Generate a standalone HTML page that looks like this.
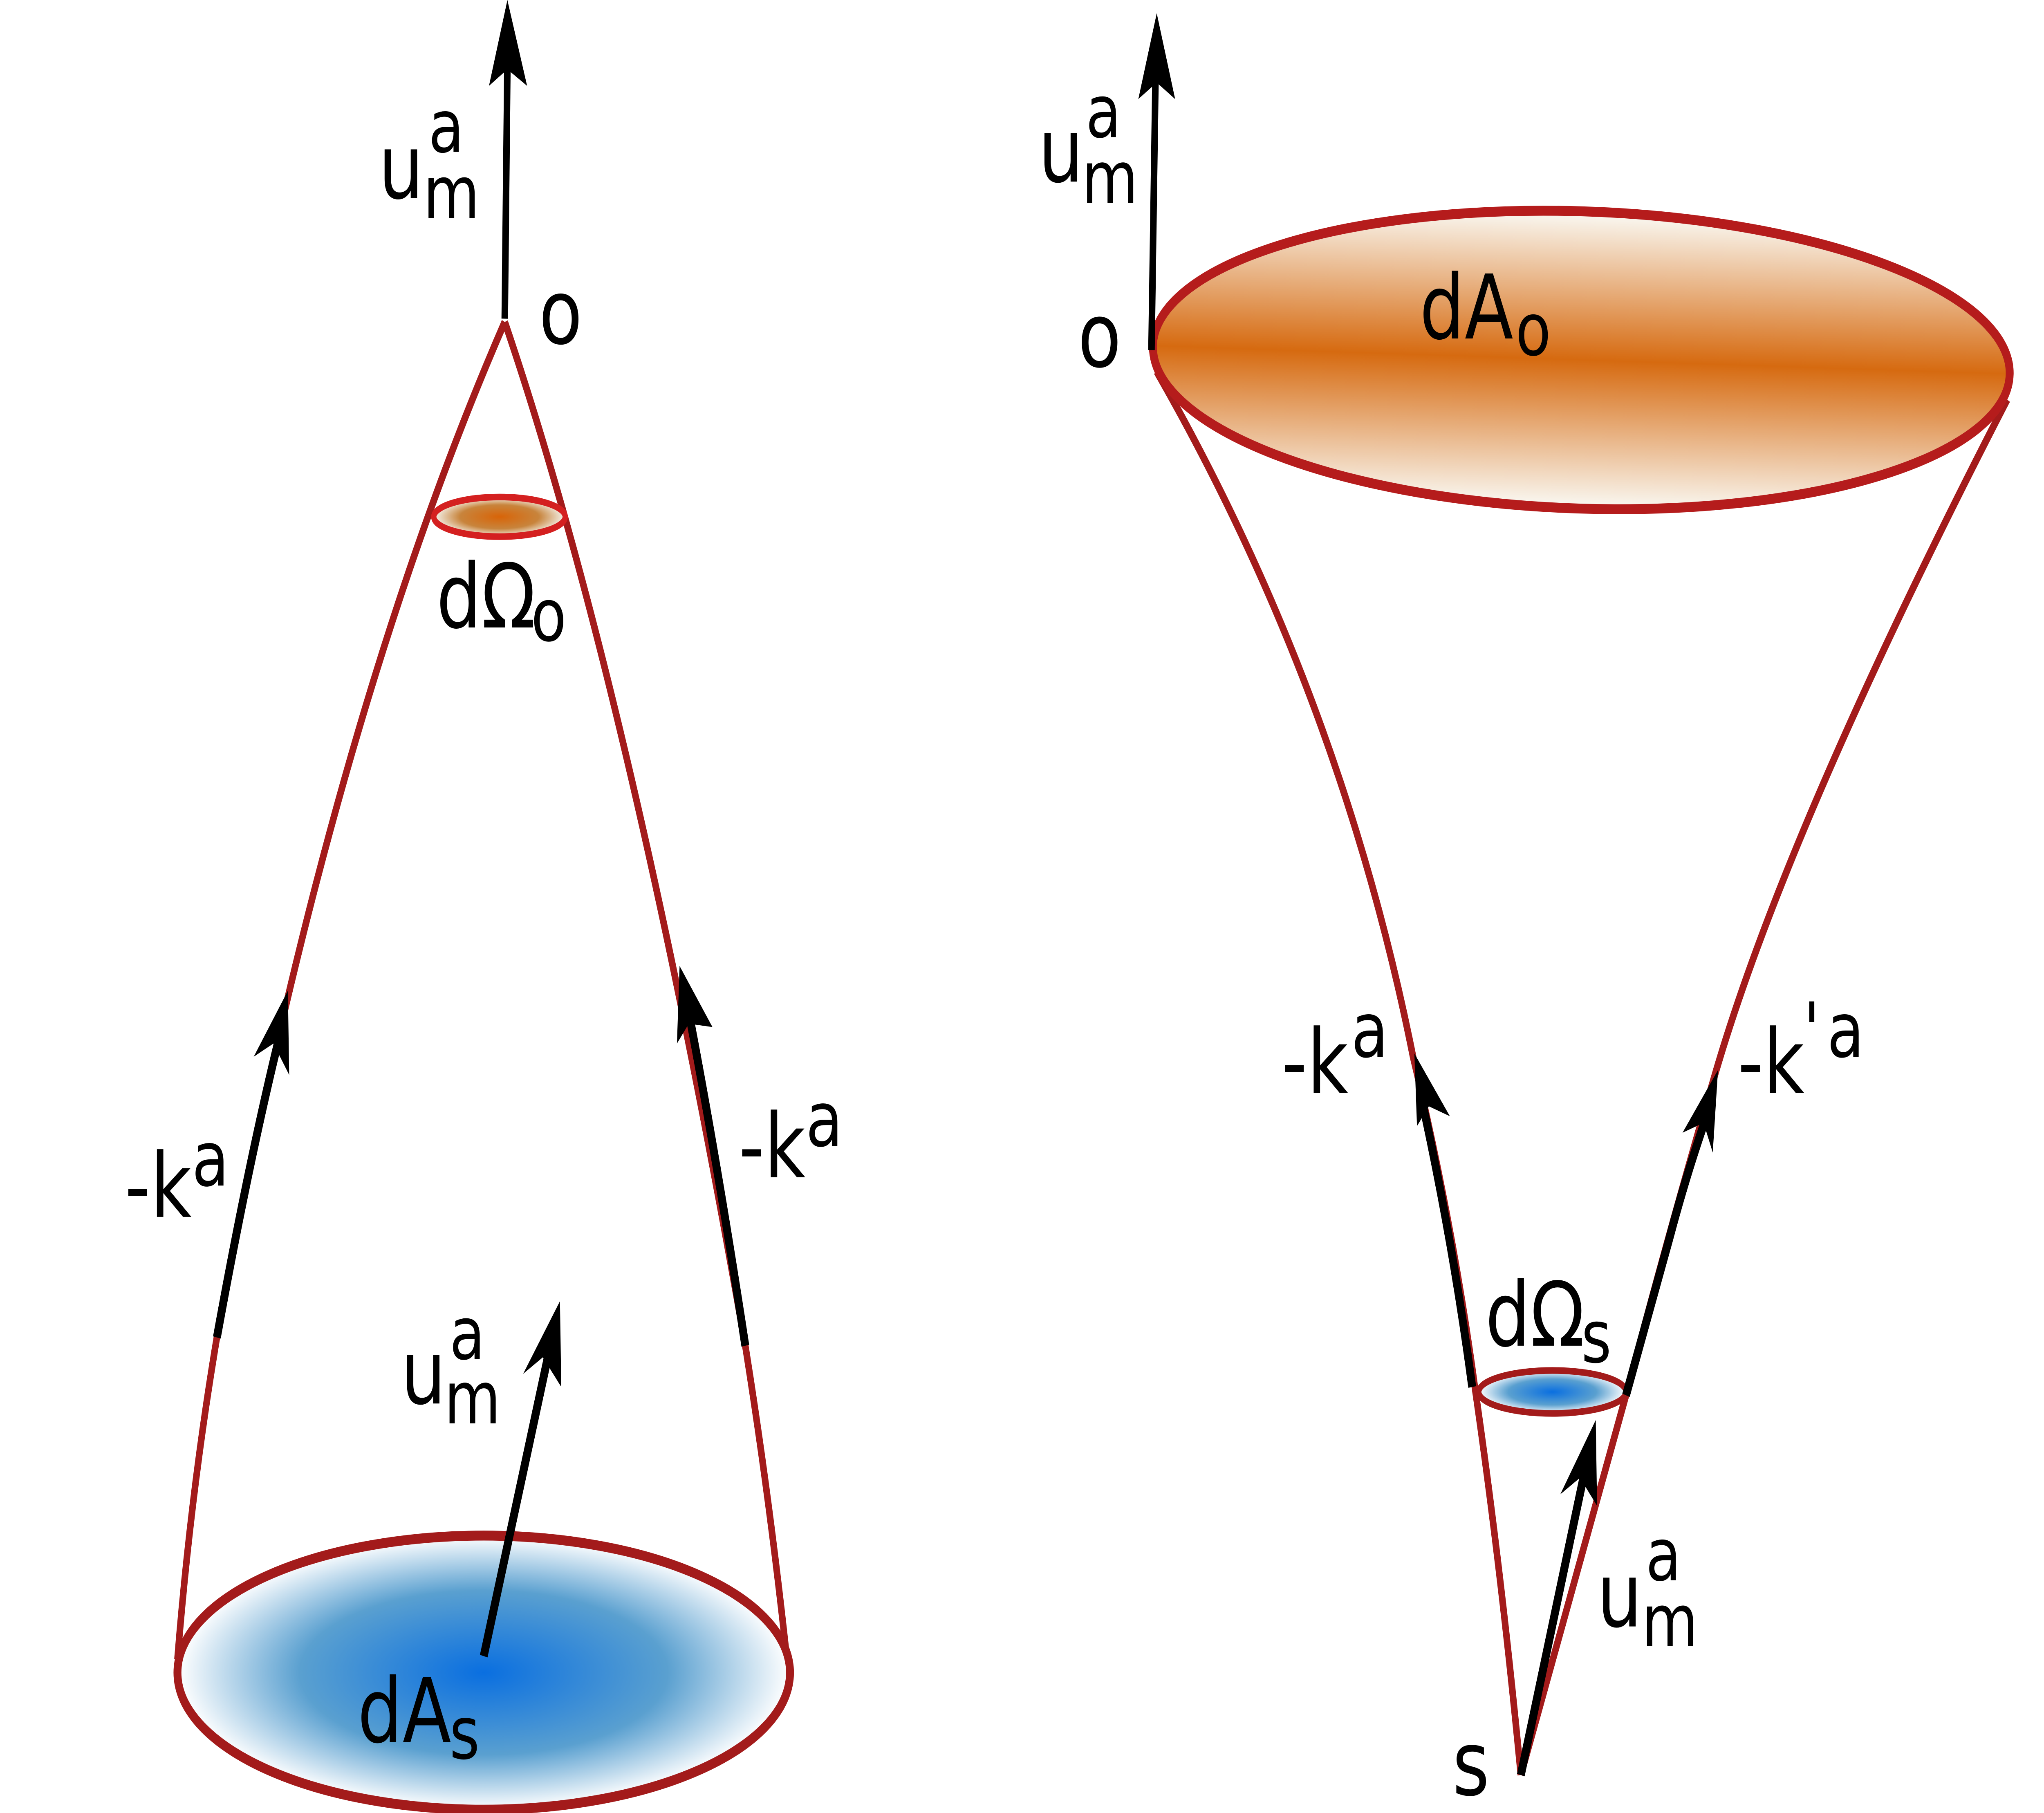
<!DOCTYPE html>
<html><head><meta charset="utf-8">
<style>
html,body{margin:0;padding:0;background:#fff;width:100%;height:100%;overflow:hidden;}
svg{display:block;width:100%;height:100%;}
text{font-family:"DejaVu Sans","Liberation Sans",sans-serif;fill:#000;}
</style></head>
<body>
<svg viewBox="0 0 1555 1098" preserveAspectRatio="none" xmlns="http://www.w3.org/2000/svg">
<defs>
<radialGradient id="blue" cx="50%" cy="50%" r="50%">
<stop offset="0" stop-color="#0a6fe0"/>
<stop offset="0.6" stop-color="#5aa0d0"/>
<stop offset="1" stop-color="#ffffff"/>
</radialGradient>
<radialGradient id="orange" cx="50%" cy="50%" r="50%">
<stop offset="0" stop-color="#d86408"/>
<stop offset="0.6" stop-color="#c8843c"/>
<stop offset="1" stop-color="#f4f4ee"/>
</radialGradient>
<linearGradient id="orangeV" x1="0" y1="0" x2="0" y2="1">
<stop offset="0" stop-color="#fafaf5"/>
<stop offset="0.5" stop-color="#d66a10"/>
<stop offset="1" stop-color="#fafaf5"/>
</linearGradient>
</defs>

<path d="M384,195 Q250,440 165,810 Q145,905 135,1005" fill="none" stroke="#a31b1b" stroke-width="5"/>
<path d="M384,195 Q480,420 567,815 Q585,905 598,1000" fill="none" stroke="#a31b1b" stroke-width="5"/>
<ellipse cx="368" cy="1013" rx="233" ry="83" fill="url(#blue)" stroke="#a31b1b" stroke-width="6"/>
<ellipse cx="380" cy="313" rx="50" ry="12" fill="url(#orange)" stroke="#d42020" stroke-width="4"/>
<line x1="384" y1="193" x2="386" y2="40" stroke="#000" stroke-width="5"/>
<polygon points="386,0 372,52 386,42 401,52" fill="#000"/>
<path d="M165,810 Q190,700 215,620" fill="none" stroke="#000" stroke-width="6"/>
<polygon points="219,600 193,640 208,632 220,651" fill="#000"/>
<path d="M567,815 Q545,700 522,605" fill="none" stroke="#000" stroke-width="6"/>
<polygon points="517,585 515,632 524,620 542,622" fill="#000"/>
<line x1="368" y1="1003" x2="420" y2="810" stroke="#000" stroke-width="6"/>
<polygon points="426,788 398,832 413,822 427,840" fill="#000"/>

<text x="288" y="120" font-size="54">u</text><text x="322" y="132" font-size="44">m</text><text x="326" y="92" font-size="44">a</text>
<text x="410" y="208" font-size="54">o</text>
<text x="332" y="380" font-size="54">dΩ</text><text x="404" y="388" font-size="44">o</text>
<text x="95" y="737" font-size="54">-k</text><text x="146" y="718" font-size="46">a</text>
<text x="562" y="713" font-size="54">-k</text><text x="613" y="694" font-size="46">a</text>
<text x="305" y="850" font-size="54">u</text><text x="338" y="862" font-size="44">m</text><text x="342" y="823" font-size="44">a</text>
<text x="272" y="1055" font-size="54">dA</text><text x="342" y="1065" font-size="44">s</text>

<path d="M880,225 Q1020,420 1075,640 Q1105,740 1122,840 Q1142,950 1157,1075" fill="none" stroke="#a31b1b" stroke-width="5"/>
<path d="M1527,242 Q1360,500 1305,650 Q1270,745 1237,845 L1157,1075" fill="none" stroke="#a31b1b" stroke-width="5"/>
<ellipse cx="1203" cy="218" rx="326" ry="90" transform="rotate(1.5 1203 218)" fill="url(#orangeV)" stroke="#b51c1c" stroke-width="6"/>
<ellipse cx="1181" cy="843" rx="56" ry="13" fill="url(#blue)" stroke="#a31b1b" stroke-width="4"/>
<line x1="876" y1="212" x2="879" y2="50" stroke="#000" stroke-width="5"/>
<polygon points="880,8 866,60 880,50 894,60" fill="#000"/>
<path d="M1120,840 Q1105,750 1080,660" fill="none" stroke="#000" stroke-width="6"/>
<polygon points="1076,638 1078,682 1087,670 1103,676" fill="#000"/>
<path d="M1237,845 L1270,750 Q1285,705 1302,668" fill="none" stroke="#000" stroke-width="6"/>
<polygon points="1307,648 1280,686 1296,680 1303,698" fill="#000"/>
<line x1="1157" y1="1075" x2="1208" y2="882" stroke="#000" stroke-width="6"/>
<polygon points="1214,860 1187,905 1202,895 1215,912" fill="#000"/>

<text x="790" y="110" font-size="54">u</text><text x="823" y="123" font-size="44">m</text><text x="826" y="83" font-size="44">a</text>
<text x="820" y="222" font-size="54">o</text>
<text x="1080" y="205" font-size="54">dA</text><text x="1153" y="215" font-size="44">o</text>
<text x="975" y="662" font-size="54">-k</text><text x="1028" y="640" font-size="46">a</text>
<text x="1322" y="662" font-size="54">-k</text><text x="1372" y="640" font-size="46">'</text><text x="1390" y="640" font-size="46">a</text>
<text x="1130" y="815" font-size="54">dΩ</text><text x="1203" y="825" font-size="44">s</text>
<text x="1215" y="985" font-size="54">u</text><text x="1249" y="997" font-size="44">m</text><text x="1252" y="957" font-size="44">a</text>
<text x="1105" y="1087" font-size="54">s</text>
</svg>
</body></html>
